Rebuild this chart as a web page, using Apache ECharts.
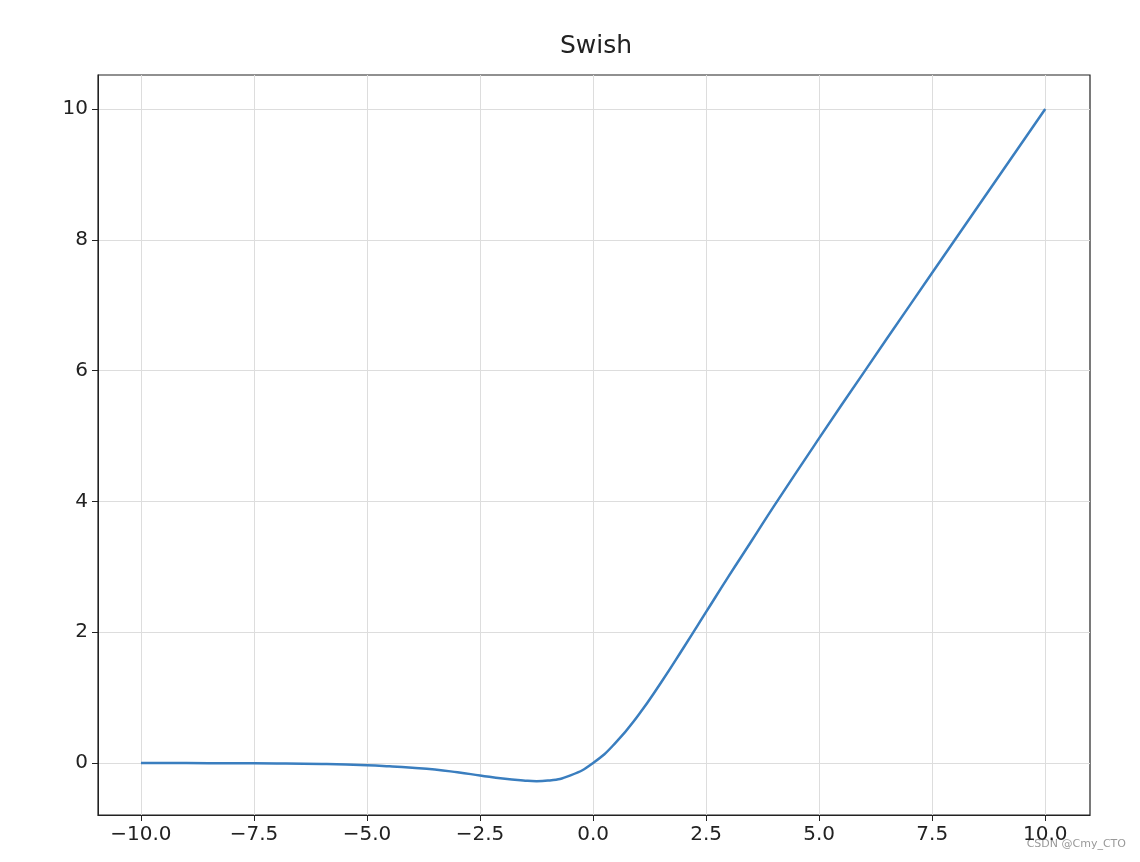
<!DOCTYPE html>
<html><head><meta charset="utf-8">
<script src="https://cdn.jsdelivr.net/npm/echarts@6/dist/echarts.min.js"></script>
<style>html,body{margin:0;background:#fff}#c{width:1140px;height:862px}</style>
</head><body><div id="c"></div>
<script>
// values
var xs = [-10,-9,-8,-7,-6,-5,-4.5,-4,-3.5,-3,-2.5,-2,-1.5,-1.25,-1,-0.5,0,0.5,1,1.5,2,2.5,3,3.5,4,5,6,7,8,9,10];
var ys = [0,-0.001,-0.003,-0.006,-0.015,-0.033,-0.05,-0.072,-0.1,-0.142,-0.19,-0.238,-0.27,-0.278,-0.269,-0.189,0,0.311,0.731,1.227,1.762,2.31,2.858,3.39,3.928,4.967,5.985,6.994,7.997,8.999,10];
var xTicks = [-10,-7.5,-5,-2.5,0,2.5,5,7.5,10];
var yTicks = [0,2,4,6,8,10];

var pts = xs.map(function(x,i){ return [x, ys[i]] });
var font = 'DejaVu Sans';
var chart = echarts.init(document.getElementById('c'));
chart.setOption({
    animation:false,
    title:{text:'Swish',left:591,textAlign:'center',top:29,textStyle:{fontFamily:font,fontSize:25,fontWeight:'normal',color:'#222'}},
    grid:{left:98,top:75,right:50,bottom:47,show:true,borderColor:'#222',borderWidth:1.2},
    xAxis:{
        type:'value',min:-10.95,max:10.99,
        axisLine:{show:true,onZero:false,lineStyle:{color:'#222'}},
        axisTick:{show:true,customValues:xTicks,length:6,lineStyle:{color:'#222'}},
        axisLabel:{customValues:xTicks,fontFamily:font,fontSize:20,color:'#222',margin:10,
            formatter:function(v){return v.toFixed(1).replace('-','\u2212')}},
        splitLine:{show:true,lineStyle:{color:'#ddd'}}
    },
    yAxis:{
        type:'value',min:-0.795,max:10.52,
        axisLine:{show:true,onZero:false,lineStyle:{color:'#222'}},
        axisTick:{show:true,customValues:yTicks,length:6,lineStyle:{color:'#222'}},
        axisLabel:{customValues:yTicks,fontFamily:font,fontSize:20,color:'#222',margin:10},
        splitLine:{show:true,lineStyle:{color:'#ddd'}}
    },
    series:[{type:'line',data:pts,smooth:true,showSymbol:false,lineStyle:{color:'#3a7ebf',width:2.5}}],
    graphic:[{type:'text',right:14,bottom:12,style:{text:'CSDN @Cmy_CTO',font:'11px '+font,fill:'#999'}}]
});
</script></body></html>
